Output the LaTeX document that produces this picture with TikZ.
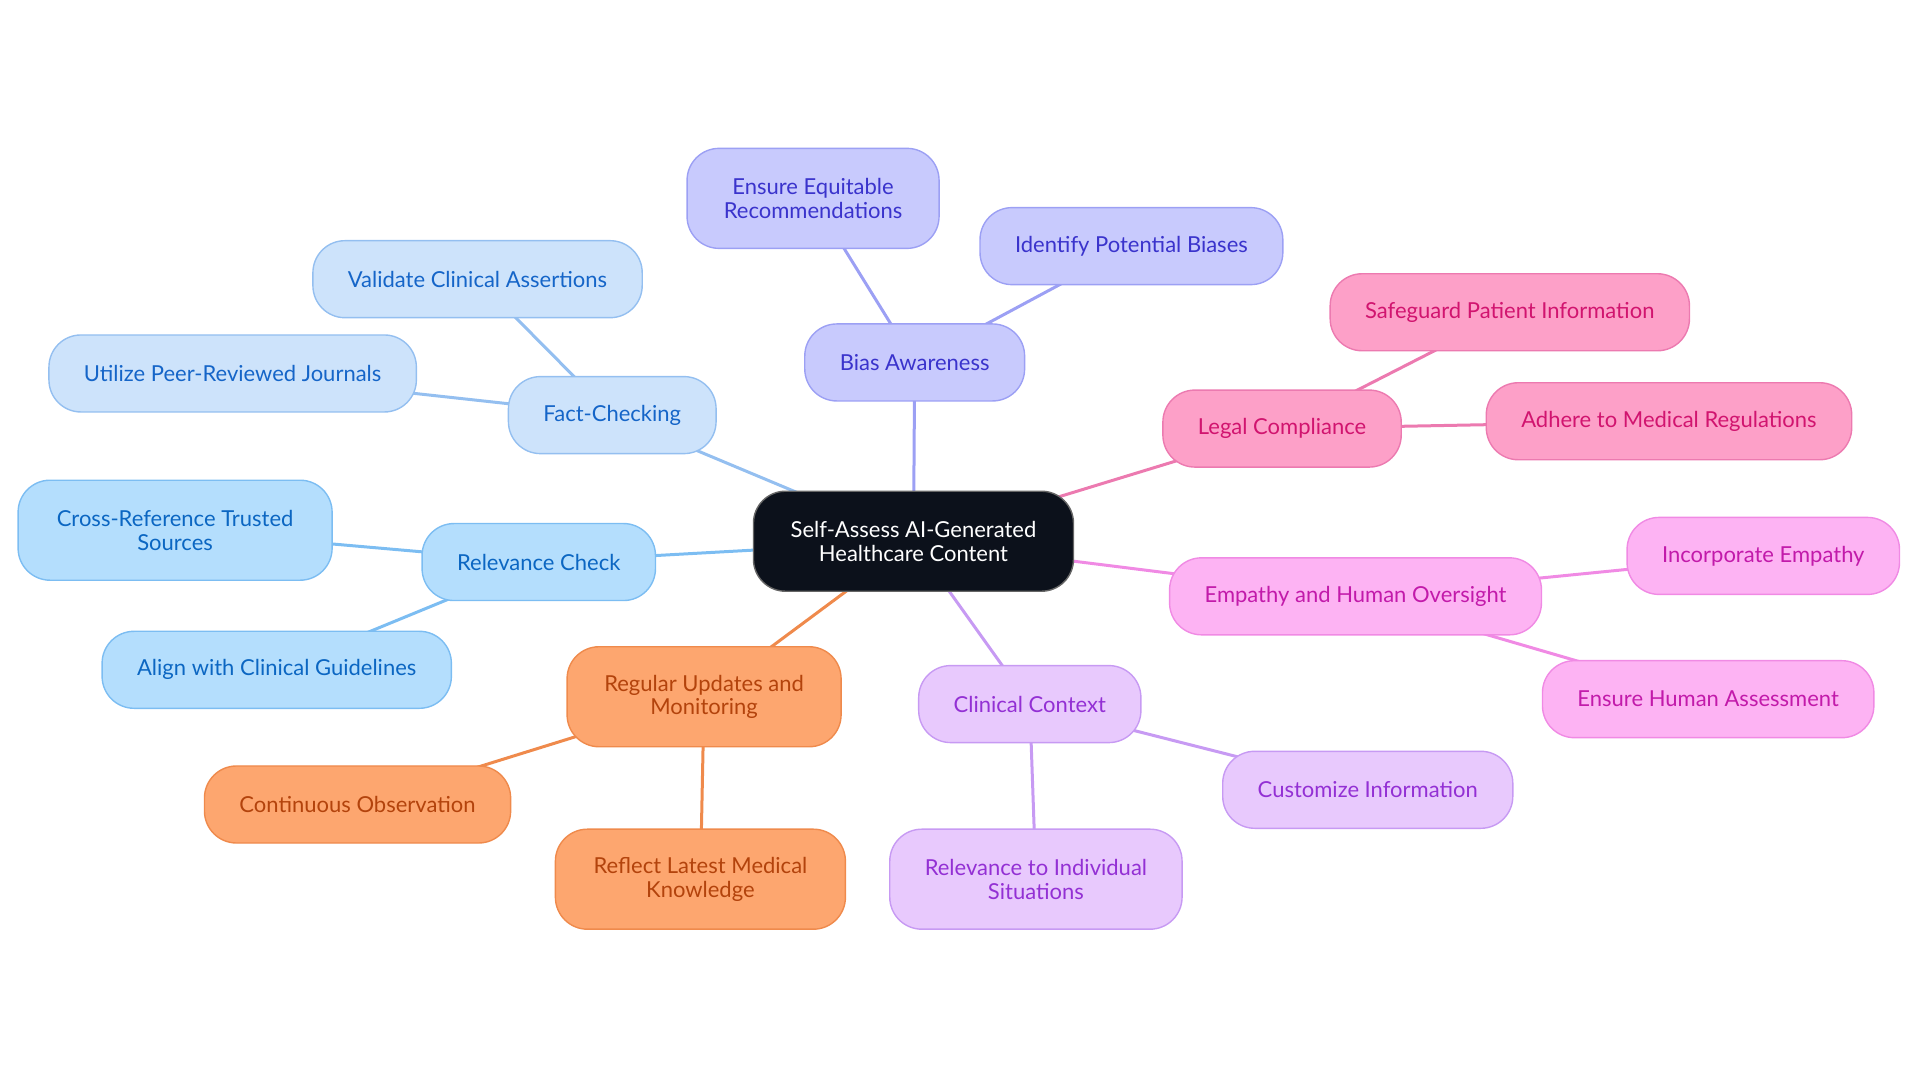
\documentclass[tikz,border=0pt]{standalone}
\usepackage{fontspec}
\setmainfont{Lato}
\usepackage{tikz}
\usetikzlibrary{backgrounds}
\definecolor{rootfill}{HTML}{0C111B}
\definecolor{factfill}{HTML}{CDE3FB}\definecolor{factline}{HTML}{94BFF0}\definecolor{facttext}{HTML}{1565C8}
\definecolor{relfill}{HTML}{B4DEFD}\definecolor{relline}{HTML}{7CBDF2}\definecolor{reltext}{HTML}{0B66C2}
\definecolor{biasfill}{HTML}{C8CAFD}\definecolor{biasline}{HTML}{9CA0F4}\definecolor{biastext}{HTML}{3A33CC}
\definecolor{legalfill}{HTML}{FDA0C8}\definecolor{legalline}{HTML}{EC7AB0}\definecolor{legaltext}{HTML}{D1146F}
\definecolor{empfill}{HTML}{FDB3F3}\definecolor{empline}{HTML}{F08AE4}\definecolor{emptext}{HTML}{C21AAA}
\definecolor{clinfill}{HTML}{E8C9FD}\definecolor{clinline}{HTML}{C79AF3}\definecolor{clintext}{HTML}{9330D4}
\definecolor{updfill}{HTML}{FDA66F}\definecolor{updline}{HTML}{EF8A4C}\definecolor{updtext}{HTML}{B3430C}
\tikzstyle{topic}=[rectangle,rounded corners=16pt,draw,line width=0.7pt,minimum height=38.5pt,inner xsep=17.5pt,align=center,font=\fontsize{11}{11.8}\selectfont]
\tikzstyle{twoline}=[minimum height=50pt]
\tikzstyle{fact}=[topic,fill=factfill,draw=factline,text=facttext]
\tikzstyle{rel}=[topic,fill=relfill,draw=relline,text=reltext]
\tikzstyle{bias}=[topic,fill=biasfill,draw=biasline,text=biastext]
\tikzstyle{legal}=[topic,fill=legalfill,draw=legalline,text=legaltext]
\tikzstyle{emp}=[topic,fill=empfill,draw=empline,text=emptext]
\tikzstyle{clin}=[topic,fill=clinfill,draw=clinline,text=clintext]
\tikzstyle{upd}=[topic,fill=updfill,draw=updline,text=updtext]
\tikzstyle{edge} = [draw,line width=1.5pt,-]

\begin{document}
\begin{tikzpicture}[x=0.6122pt,y=-0.6122pt]
        \useasboundingbox (0,0) rectangle (1568,884);
        \node[topic,twoline,fill=rootfill,draw=black!60,text=white,minimum width=160pt] (root) at (746,442) {Self-Assess AI-Generated\\Healthcare Content};
        % bias branch
        \node[bias] (bias) at (747,296) {Bias Awareness};
        \node[bias,twoline,minimum width=126pt] (equit) at (664,162) {Ensure Equitable\\Recommendations};
        \node[bias] (biases) at (924,201) {Identify Potential Biases};
        % fact-checking branch
        \node[fact] (fact) at (500,339) {Fact-Checking};
        \node[fact] (valid) at (390,228) {Validate Clinical Assertions};
        \node[fact] (peer) at (190,305) {Utilize Peer-Reviewed Journals};
        % relevance branch
        \node[rel] (relev) at (440,459) {Relevance Check};
        \node[rel,twoline,minimum width=157pt] (cross) at (143,433) {Cross-Reference Trusted\\Sources};
        \node[rel] (align) at (226,547) {Align with Clinical Guidelines};
        % updates branch
        \node[upd,twoline,minimum width=137pt] (update) at (575,569) {Regular Updates and\\Monitoring};
        \node[upd] (observ) at (292,657) {Continuous Observation};
        \node[upd,twoline,minimum width=145pt] (latest) at (572,718) {Reflect Latest Medical\\Knowledge};
        % clinical branch
        \node[clin] (clin) at (841,575) {Clinical Context};
        \node[clin] (custom) at (1117,645) {Customize Information};
        \node[clin,twoline,minimum width=145pt] (indiv) at (846,718) {Relevance to Individual\\Situations};
        % empathy branch
        \node[emp] (empathy) at (1107,487) {Empathy and Human Oversight};
        \node[emp] (incorp) at (1440,454) {Incorporate Empathy};
        \node[emp] (human) at (1395,571) {Ensure Human Assessment};
        % legal branch
        \node[legal] (legal) at (1047,350) {Legal Compliance};
        \node[legal] (safe) at (1233,255) {Safeguard Patient Information};
        \node[legal] (adhere) at (1363,344) {Adhere to Medical Regulations};
        \begin{scope}[on background layer]
        \draw[edge,biasline] (root.center) -- (bias.center);
        \draw[edge,biasline] (bias.center) -- (equit.center);
        \draw[edge,biasline] (bias.center) -- (biases.center);
        \draw[edge,factline] (root.center) -- (fact.center);
        \draw[edge,factline] (fact.center) -- (valid.center);
        \draw[edge,factline] (fact.center) -- (peer.center);
        \draw[edge,relline] (root.center) -- (relev.center);
        \draw[edge,relline] (relev.center) -- (cross.center);
        \draw[edge,relline] (relev.center) -- (align.center);
        \draw[edge,updline] (root.center) -- (update.center);
        \draw[edge,updline] (update.center) -- (observ.center);
        \draw[edge,updline] (update.center) -- (latest.center);
        \draw[edge,clinline] (root.center) -- (clin.center);
        \draw[edge,clinline] (clin.center) -- (custom.center);
        \draw[edge,clinline] (clin.center) -- (indiv.center);
        \draw[edge,empline] (root.center) -- (empathy.center);
        \draw[edge,empline] (empathy.center) -- (incorp.center);
        \draw[edge,empline] (empathy.center) -- (human.center);
        \draw[edge,legalline] (root.center) -- (legal.center);
        \draw[edge,legalline] (legal.center) -- (safe.center);
        \draw[edge,legalline] (legal.center) -- (adhere.center);
        \end{scope}
      \end{tikzpicture}
\end{document}
